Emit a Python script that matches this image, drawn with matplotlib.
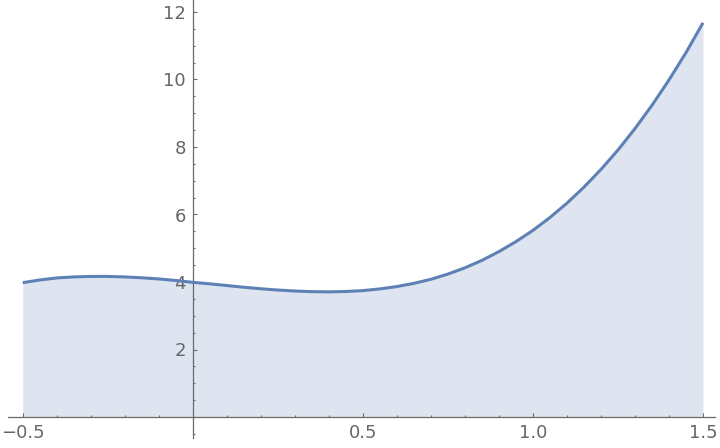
import numpy as np
import matplotlib
matplotlib.use('Agg')
import matplotlib.pyplot as plt
from matplotlib.ticker import MultipleLocator, FixedLocator

# values
x_vals = [-0.5, -0.45, -0.4, -0.35, -0.3, -0.25, -0.2, -0.15, -0.1, -0.05,
          0.0, 0.05, 0.1, 0.15, 0.2, 0.25, 0.3, 0.35, 0.4, 0.45,
          0.5, 0.55, 0.6, 0.65, 0.7, 0.75, 0.8, 0.85, 0.9, 0.95,
          1.0, 1.05, 1.1, 1.15, 1.2, 1.25, 1.3, 1.35, 1.4, 1.45, 1.5]
y_vals = [3.98, 4.06, 4.12, 4.15, 4.165, 4.165, 4.15, 4.125, 4.09, 4.045,
          3.99, 3.945, 3.895, 3.845, 3.80, 3.762, 3.733, 3.714, 3.708, 3.718,
          3.745, 3.795, 3.865, 3.96, 4.08, 4.235, 4.42, 4.64, 4.90, 5.195,
          5.53, 5.91, 6.335, 6.81, 7.335, 7.91, 8.545, 9.235, 9.985, 10.795, 11.68]
x_ticks = [-0.5, 0.5, 1.0, 1.5]
x_labels = ['\u22120.5', '0.5', '1.0', '1.5']
y_ticks = [2, 4, 6, 8, 10, 12]

line_col = '#5E81B5'
axis_col = '#6a6a6a'
text_col = '#666666'

fig = plt.figure(figsize=(7.2, 4.48), dpi=100)
ax = fig.add_axes([8 / 720, 10 / 448, 707 / 720, 438 / 448])

x = np.array(x_vals)
y = np.array(y_vals)
ax.fill_between(x, 0, y, color=line_col, alpha=0.2, linewidth=0)
ax.plot(x, y, color=line_col, lw=2.2, solid_capstyle='butt',
        solid_joinstyle='round', zorder=3)

# pixel geometry: x=-0.5 at 22.7px, 339.7 px per unit; y=0 at 417px, 33.75 px per unit
ax.set_xlim(-0.5 - 14.7 / 339.7, 1.5 + 12 / 339.7)
ax.set_ylim(-21 / 33.75, 417 / 33.75)

for s in ['top', 'right']:
    ax.spines[s].set_visible(False)
ax.spines['left'].set_position(('data', 0))
ax.spines['bottom'].set_position(('data', 0))
for s in ['left', 'bottom']:
    ax.spines[s].set_color(axis_col)
    ax.spines[s].set_linewidth(0.9)

ax.xaxis.set_major_locator(FixedLocator(x_ticks))
ax.set_xticklabels(x_labels)
ax.xaxis.set_minor_locator(MultipleLocator(0.1))
ax.yaxis.set_major_locator(FixedLocator(y_ticks))
ax.yaxis.set_minor_locator(MultipleLocator(0.5))

ax.tick_params(which='both', direction='in', color=axis_col, width=0.8,
               labelcolor=text_col, labelsize=13)
ax.tick_params(which='major', length=3.0)
ax.tick_params(which='minor', length=1.6)
ax.tick_params(axis='x', pad=5)
ax.tick_params(axis='y', pad=5)

plt.savefig('out.png', dpi=100)
